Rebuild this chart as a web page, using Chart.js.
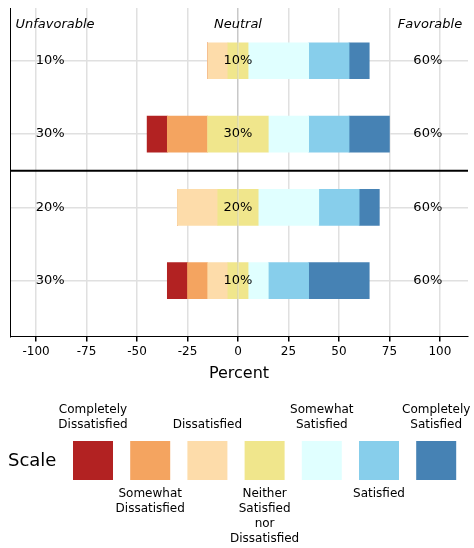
<!DOCTYPE html>
<html><head><meta charset="utf-8">
<script src="https://cdn.jsdelivr.net/npm/chart.js@4/dist/chart.umd.min.js"></script>
<style>html,body{margin:0;background:#fff}#wrap{width:474px;height:548px}</style>
</head><body><div id="wrap"><canvas id="c"></canvas></div>
<script>
const scaleNames = ['Completely Dissatisfied','Somewhat Dissatisfied','Dissatisfied','Neither Satisfied nor Dissatisfied','Somewhat Satisfied','Satisfied','Completely Satisfied'];
const scaleColors = ['#b22222','#f4a460','#fddcaa','#f0e68c','#e0ffff','#87ceeb','#4682b4'];
// rows top to bottom, percent per scale level
const rowCD = [0, 10, 0, 10];
const rowSD = [0, 20, 0, 10];
const rowD  = [10, 0, 20, 10];
const rowN  = [10, 30, 20, 10];
const rowSS = [30, 20, 30, 10];
const rowS  = [20, 20, 20, 20];
const rowCS = [10, 20, 10, 30];
const unfavText = ['10%','30%','20%','30%'];
const neutText  = ['10%','30%','20%','10%'];
const favText   = ['60%','60%','60%','60%'];
const xTicks = [-100,-75,-50,-25,0,25,50,75,100];

const pts = (arr, sign) => arr.map((v, i) => ({x: sign * v, y: i}));
const ds = (label, arr, sign, col) => ({label, data: pts(arr, sign), backgroundColor: col, borderWidth: 0, barThickness: 36});
const datasets = [
  ds('Nneg', rowN.map(v => v / 2), -1, scaleColors[3]),
  ds('D', rowD, -1, scaleColors[2]),
  ds('SD', rowSD, -1, scaleColors[1]),
  ds('CD', rowCD, -1, scaleColors[0]),
  ds('Npos', rowN.map(v => v / 2), 1, scaleColors[3]),
  ds('SS', rowSS, 1, scaleColors[4]),
  ds('S', rowS, 1, scaleColors[5]),
  ds('CS', rowCS, 1, scaleColors[6])
];

const FONT = '"DejaVu Sans", sans-serif';
const deco = {
  id: 'deco',
  afterDatasetsDraw(chart) {
    const {ctx, scales: {x, y}, chartArea: a} = chart;
    ctx.save();
    // separator
    ctx.strokeStyle = '#000'; ctx.lineWidth = 2;
    ctx.beginPath(); ctx.moveTo(a.left, y.getPixelForValue(1.5)); ctx.lineTo(a.right, y.getPixelForValue(1.5)); ctx.stroke();
    ctx.fillStyle = '#000'; ctx.textBaseline = 'middle'; ctx.textAlign = 'center';
    ctx.font = '13px ' + FONT;
    for (let i = 0; i < 4; i++) {
      const py = y.getPixelForValue(i);
      ctx.fillText(unfavText[i], x.getPixelForValue(-93), py);
      ctx.fillText(neutText[i], x.getPixelForValue(0), py);
      ctx.fillText(favText[i], x.getPixelForValue(94), py);
    }
    ctx.font = 'italic 13px ' + FONT;
    ctx.fillText('Unfavorable', 55, 25);
    ctx.fillText('Neutral', x.getPixelForValue(0), 25);
    ctx.fillText('Favorable', 430, 25);
    // legend
    ctx.font = '18px ' + FONT; ctx.textAlign = 'left';
    ctx.fillText('Scale', 8, 461);
    ctx.font = '12px ' + FONT; ctx.textAlign = 'center';
    const lines = [['Completely','Dissatisfied'],['Somewhat','Dissatisfied'],['Dissatisfied'],['Neither','Satisfied','nor','Dissatisfied'],['Somewhat','Satisfied'],['Satisfied'],['Completely','Satisfied']];
    for (let k = 0; k < 7; k++) {
      const bx = 73 + k * 57.2;
      ctx.fillStyle = scaleColors[k];
      ctx.fillRect(bx, 441, 40, 39);
      ctx.fillStyle = '#000';
      const cx = bx + 20, L = lines[k];
      if (k % 2 === 0) {
        L.forEach((t, j) => ctx.fillText(t, cx, 425 - (L.length - 1 - j) * 15));
      } else {
        L.forEach((t, j) => ctx.fillText(t, cx, 494 + j * 15));
      }
    }
    ctx.restore();
  }
};

new Chart(document.getElementById('c'), {
  type: 'bar',
  data: {datasets},
  options: {
    responsive: true, maintainAspectRatio: false, animation: false,
    indexAxis: 'y',
    layout: {padding: {top: 8, left: 10, right: 6, bottom: 163}},
    plugins: {legend: {display: false}, tooltip: {enabled: false}},
    scales: {
      x: {
        stacked: true, min: -112.9, max: 113.9,
        afterBuildTicks: s => { s.ticks = xTicks.map(v => ({value: v})); },
        grid: {color: c => c.tick && c.tick.value === 0 ? '#c8c8c8' : '#e0e0e0', lineWidth: 1.5, tickColor: '#000', tickLength: 5},
        border: {color: '#000'},
        ticks: {color: '#000', font: {family: FONT, size: 12}},
        title: {display: true, text: 'Percent', color: '#000', font: {family: FONT, size: 16}, padding: 2}
      },
      y: {
        type: 'linear', stacked: true, reverse: true, offset: false, min: -0.72, max: 3.76,
        afterBuildTicks: s => { s.ticks = [0,1,2,3].map(v => ({value: v})); },
        grid: {color: '#e0e0e0', lineWidth: 1.5, drawTicks: false, offset: false},
        border: {color: '#000'},
        ticks: {display: false}
      }
    }
  },
  plugins: [deco]
});
</script></body></html>
